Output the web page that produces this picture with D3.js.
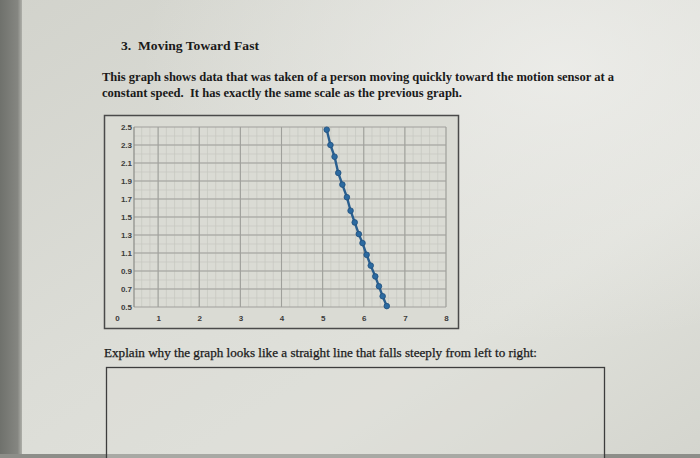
<!DOCTYPE html>
<html><head><meta charset="utf-8">
<script src="https://cdn.jsdelivr.net/npm/d3@7"></script>
<style>
html,body{margin:0;padding:0;overflow:hidden;}
svg{display:block;}
</style></head>
<body>
<svg id="c" width="700" height="458"></svg>
<script>
// ---- data ----
const timeValues = [5.10, 5.19, 5.29, 5.38, 5.48, 5.59, 5.68, 5.78, 5.88, 5.97, 6.07, 6.17, 6.28, 6.37, 6.46, 6.56];
const distValues = [2.47, 2.30, 2.17, 1.99, 1.86, 1.72, 1.57, 1.44, 1.31, 1.21, 1.08, 0.96, 0.84, 0.73, 0.62, 0.51];
const xTicks = [0, 1, 2, 3, 4, 5, 6, 7, 8];
const yTicks = [0.5, 0.7, 0.9, 1.1, 1.3, 1.5, 1.7, 1.9, 2.1, 2.3, 2.5];
const titleText = "3.  Moving Toward Fast";
const paraLines = [
  "This graph shows data that was taken of a person moving quickly toward the motion sensor at a",
  "constant speed.  It has exactly the same scale as the previous graph."
];
const promptText = "Explain why the graph looks like a straight line that falls steeply from left to right:";

const points = timeValues.map((t, i) => ({t, d: distValues[i]}));

const svg = d3.select("#c");
const defs = svg.append("defs");

// paper background
const g1 = defs.append("linearGradient").attr("id","paper").attr("x1","0").attr("y1","0").attr("x2","1").attr("y2","1");
g1.append("stop").attr("offset","0").attr("stop-color","#d2d3cc");
g1.append("stop").attr("offset","0.45").attr("stop-color","#dcddd7");
g1.append("stop").attr("offset","0.7").attr("stop-color","#e0e1db");
g1.append("stop").attr("offset","1").attr("stop-color","#d4d5ce");
svg.append("rect").attr("width",700).attr("height",458).attr("fill","url(#paper)");
// lighter top-right glow
const g2 = defs.append("radialGradient").attr("id","glow").attr("cx","0.8").attr("cy","0.15").attr("r","0.6");
g2.append("stop").attr("offset","0").attr("stop-color","#efefec").attr("stop-opacity",0.8);
g2.append("stop").attr("offset","1").attr("stop-color","#efefec").attr("stop-opacity",0);
svg.append("rect").attr("width",700).attr("height",458).attr("fill","url(#glow)");
// dark left strip
const g3 = defs.append("linearGradient").attr("id","strip").attr("x1","0").attr("x2","1");
g3.append("stop").attr("offset","0").attr("stop-color","#6f716c");
g3.append("stop").attr("offset","0.8").attr("stop-color","#858681");
g3.append("stop").attr("offset","1").attr("stop-color","#aeafa9");
svg.append("rect").attr("x",0).attr("y",0).attr("width",22).attr("height",458).attr("fill","url(#strip)");
svg.append("rect").attr("x",0).attr("y",454).attr("width",700).attr("height",4).attr("fill","#8d8e89");

// texts
const serif = "'Liberation Serif','DejaVu Serif',serif";
svg.append("text").attr("x",121).attr("y",50).attr("font-family",serif).attr("font-weight","bold")
  .attr("font-size",13).attr("fill","#1a1a1a").attr("textLength",138).attr("lengthAdjust","spacingAndGlyphs")
  .attr("xml:space","preserve").text(titleText);
svg.selectAll("text.para").data(paraLines).join("text").attr("class","para")
  .attr("x",102).attr("y",(d,i)=>81+i*15.5).attr("font-family",serif).attr("font-weight","bold")
  .attr("font-size",12.5).attr("fill","#1a1a1a")
  .attr("textLength",(d,i)=> i===0 ? 512 : 360).attr("lengthAdjust","spacingAndGlyphs")
  .attr("xml:space","preserve").text(d=>d);
svg.append("text").attr("x",104).attr("y",357).attr("font-family",serif)
  .attr("font-size",12.5).attr("fill","#1a1a1a").attr("stroke","#1a1a1a").attr("stroke-width",0.25)
  .attr("textLength",433).attr("lengthAdjust","spacingAndGlyphs")
  .text(promptText);

// answer box
svg.append("rect").attr("x",106.5).attr("y",367.5).attr("width",498).attr("height",120)
  .attr("fill","#dcddd7").attr("fill-opacity",0.35).attr("stroke","#3d3d3d").attr("stroke-width",1.3);

// chart box
svg.append("rect").attr("x",104.5).attr("y",115.5).attr("width",354).attr("height",213)
  .attr("fill","#dadbd4").attr("stroke","#4a4a4a").attr("stroke-width",1.5);

const x = d3.scaleLinear().domain([0,8]).range([117,446]);
const y = d3.scaleLinear().domain([0.5,2.5]).range([307,127]);
const plotL = 134, plotR = 446;

// minor gridlines
const g = svg.append("g");
g.selectAll("line.mx").data(d3.range(0.2,8.01,0.2).filter(v=>x(v)>plotL+1)).join("line")
  .attr("x1",d=>x(d)).attr("x2",d=>x(d)).attr("y1",y(2.5)).attr("y2",y(0.5))
  .attr("stroke","#c6c7c0").attr("stroke-width",0.7);
g.selectAll("line.my").data(d3.range(0.6,2.5,0.1)).join("line")
  .attr("x1",plotL).attr("x2",plotR).attr("y1",d=>y(d)).attr("y2",d=>y(d))
  .attr("stroke","#c6c7c0").attr("stroke-width",0.7);
// major gridlines
g.selectAll("line.gx").data(xTicks.filter(v=>x(v)>plotL)).join("line")
  .attr("x1",d=>x(d)).attr("x2",d=>x(d)).attr("y1",y(2.5)).attr("y2",y(0.5))
  .attr("stroke","#9fa09b").attr("stroke-width",1.1);
g.selectAll("line.gy").data(yTicks).join("line")
  .attr("x1",plotL).attr("x2",plotR).attr("y1",d=>y(d)).attr("y2",d=>y(d))
  .attr("stroke","#9fa09b").attr("stroke-width",1.1);
g.append("line").attr("x1",plotL).attr("x2",plotL).attr("y1",y(2.5)).attr("y2",y(0.5))
  .attr("stroke","#8a8b86").attr("stroke-width",1.2);

// axes (labels only)
const sans = "'Liberation Sans',Arial,sans-serif";
const xAxis = d3.axisBottom(x).tickValues(xTicks).tickSize(0).tickPadding(0).tickFormat(d3.format("d"));
const xa = svg.append("g").attr("transform","translate(0,315)").call(xAxis);
xa.select(".domain").remove();
xa.selectAll("text").attr("font-family",sans).attr("font-size",8).attr("font-weight","bold").attr("fill","#3a3a3a");
const yAxis = d3.axisLeft(y).tickValues(yTicks).tickSize(0).tickPadding(0).tickFormat(d3.format(".1f"));
const ya = svg.append("g").attr("transform","translate(132,0)").call(yAxis);
ya.select(".domain").remove();
ya.selectAll("text").attr("font-family",sans).attr("font-size",8).attr("font-weight","bold").attr("fill","#3a3a3a");

// series
const line = d3.line().x(d=>x(d.t)).y(d=>y(d.d));
svg.append("path").datum(points).attr("d",line).attr("fill","none")
  .attr("stroke","#2a5f8f").attr("stroke-width",2.4);
svg.selectAll("circle.pt").data(points).join("circle").attr("class","pt")
  .attr("cx",d=>x(d.t)).attr("cy",d=>y(d.d)).attr("r",2.8)
  .attr("fill","#2c6aa0").attr("stroke","#1f4f7c").attr("stroke-width",0.8);
</script>
</body></html>
